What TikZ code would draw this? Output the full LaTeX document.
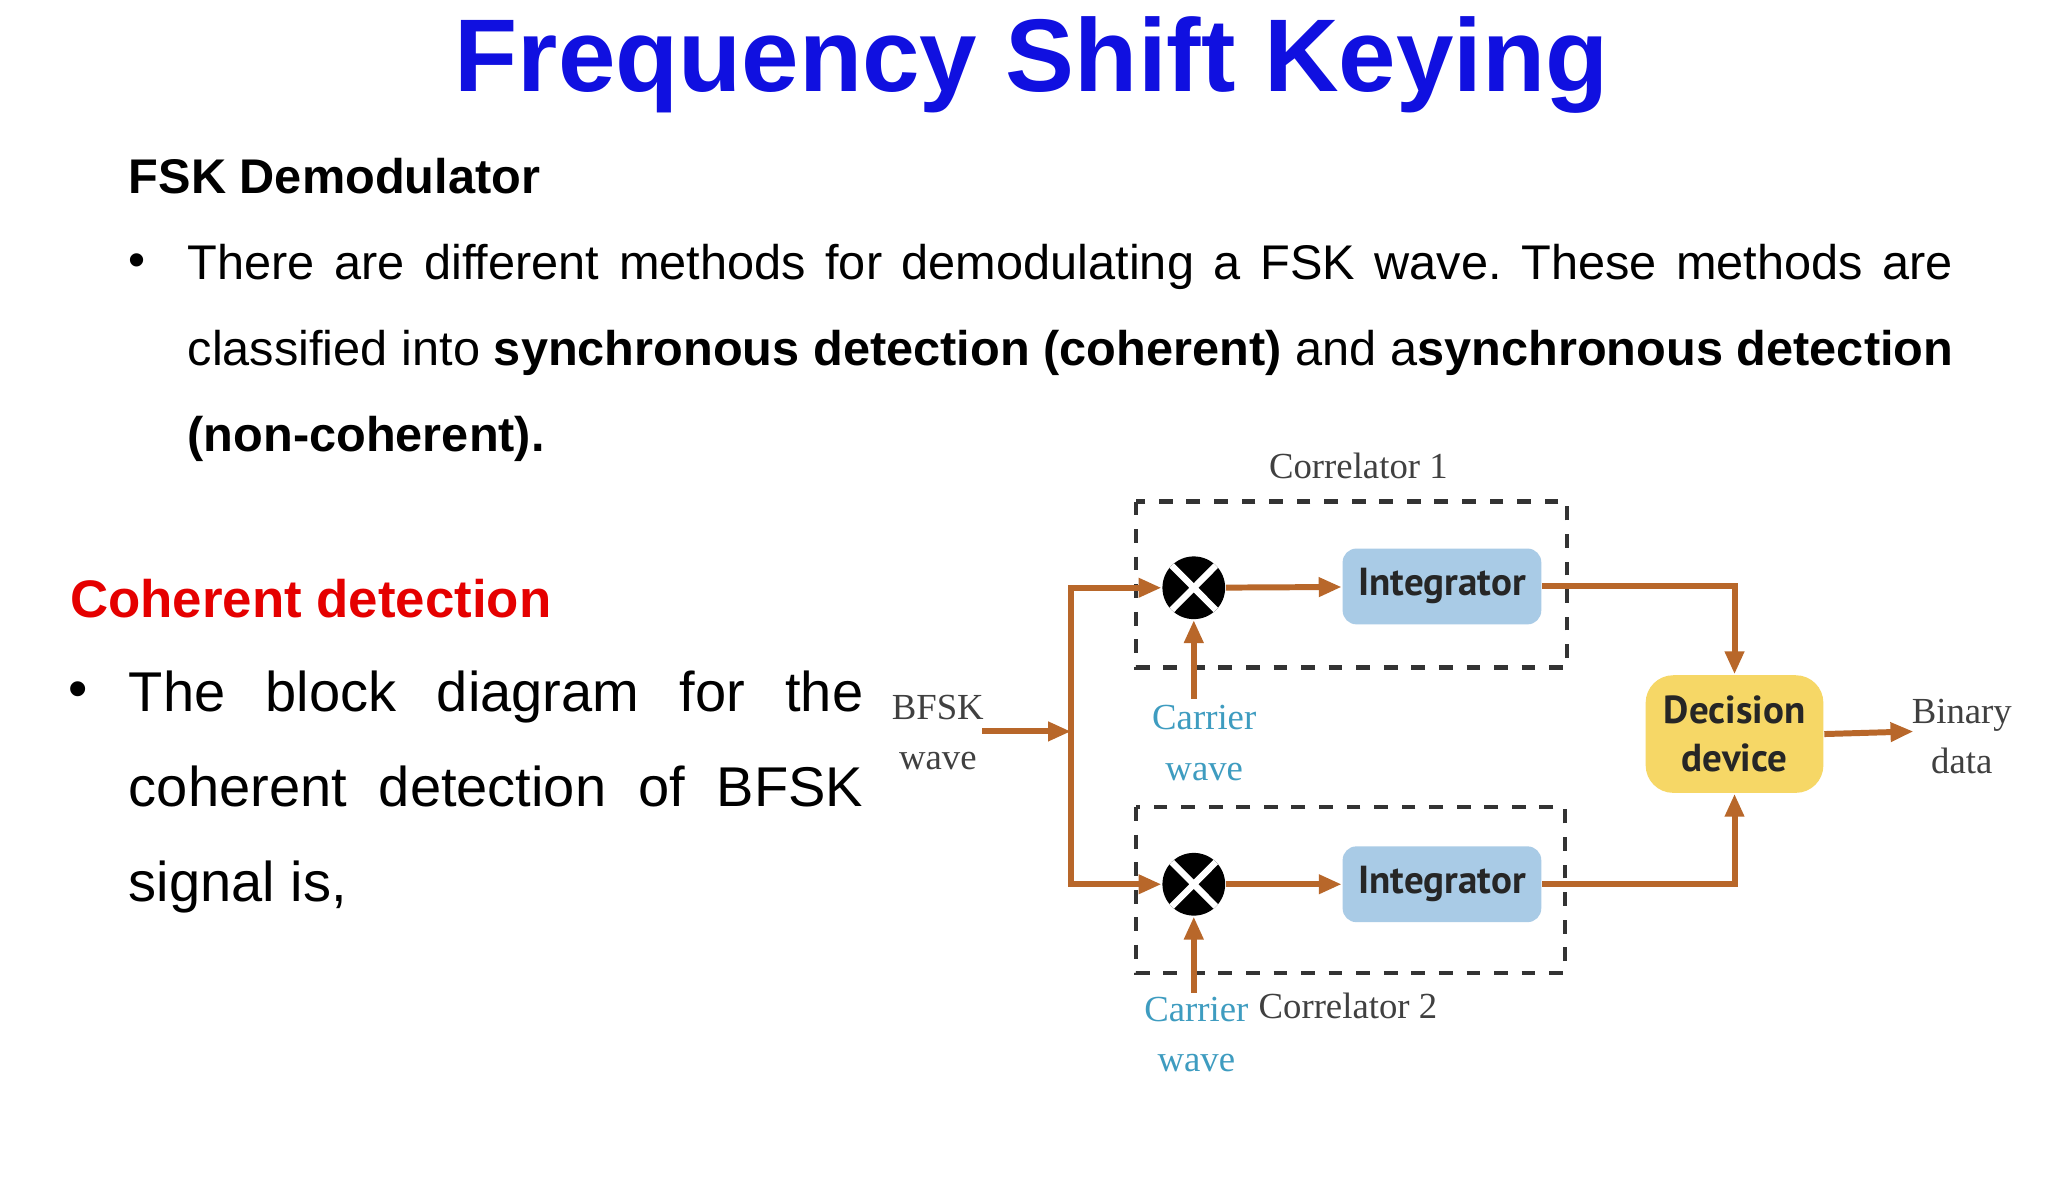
\documentclass[tikz,border=0pt]{standalone}
\usepackage{fontspec}
\setmainfont{Liberation Sans}
\newfontfamily\dia{PT Sans}
\newfontfamily\ser{Liberation Serif}
\usetikzlibrary{arrows.meta}
\definecolor{ln}{HTML}{B8672A}
\definecolor{cw}{HTML}{3E9CC0}
\definecolor{ib}{HTML}{A9CBE6}
\definecolor{dy}{HTML}{F6D766}
\definecolor{tb}{HTML}{1010E0}
\frenchspacing
\begin{document}
\begin{tikzpicture}[x=0.01cm,y=-0.01cm,
  wire/.style={ln,line width=1.3pt},
  arr/.style={wire,-{Triangle[length=5pt,width=4pt]}},
  dbox/.style={draw=black!80,dashed,line width=0.9pt},
  integ/.style={rounded corners=3pt,fill=ib,minimum width=1.52cm,minimum height=0.58cm,font=\dia\bfseries\fontsize{8.5}{10}\selectfont\color{black!85}},
  mult/.style={circle,fill=black,minimum size=0.48cm,inner sep=0pt,path picture={\draw[white,line width=1.4pt] (path picture bounding box.north west)++(0.08,-0.08) -- ([shift={(-0.08,0.08)}]path picture bounding box.south east) (path picture bounding box.north east)++(-0.08,-0.08) -- ([shift={(0.08,0.08)}]path picture bounding box.south west);}},
  lab/.style={font=\ser\fontsize{8}{11}\selectfont,text=black!75,align=center},
  clab/.style={font=\ser\fontsize{8}{11}\selectfont,text=cw,align=center}]
\useasboundingbox (0,0) rectangle (1568,905);
\fill[white] (0,0) rectangle (1568,905);
\node (title) at (790,50) {\bfseries\fontsize{22.5}{24}\selectfont\color{tb}Frequency Shift Keying};
\node[anchor=west,inner sep=0pt] (sub) at (98,135) {\bfseries\fontsize{10.6}{12}\selectfont FSK Demodulator};
\node (b1) at (105,203) {\fontsize{10.6}{12}\selectfont •};
\node[anchor=north west,text width=13.51cm,inner sep=0pt,align=justify] (p1) at (143,186) {\fontsize{10.6}{18.8}\selectfont\hyphenpenalty=10000 There are different methods for demodulating a FSK wave. These methods are classified into \textbf{synchronous detection (coherent)} and a\textbf{synchronous detection (non-coherent).}\par};
\node[anchor=west,inner sep=0pt] (coh) at (53,458) {\bfseries\fontsize{11.5}{13}\selectfont\color{red!90!black}Coherent detection};
\node (b2) at (60,532) {\fontsize{12}{13}\selectfont •};
\node[anchor=north west,text width=5.62cm,inner sep=0pt,align=justify] (p2) at (98,513) {\fontsize{12.2}{20.7}\selectfont\hyphenpenalty=10000 The block diagram for the coherent detection of BFSK signal is,\par};
% diagram
\draw[dbox] (870,384) rectangle (1200,511);
\draw[dbox] (870,618) rectangle (1198,745);
\node[mult] (m1) at (914,450) {};
\node[mult] (m2) at (914,677) {};
\node[integ] (i1) at (1104,449) {Integrator};
\node[integ] (i2) at (1104,677) {Integrator};
\node[rounded corners=6pt,fill=dy,minimum width=1.36cm,minimum height=0.9cm,align=center,font=\dia\bfseries\fontsize{8.5}{10.5}\selectfont\color{black!85}] (dd) at (1328,562) {Decision\\device};
\node[lab] (in) at (718,561) {BFSK\\wave};
\node[lab] (out) at (1502,564) {Binary\\data};
\node[clab] (c1) at (922,569) {Carrier\\wave};
\node[clab] (c2) at (916,792) {Carrier\\wave};
\node[lab] (k1) at (1040,357) {Correlator 1};
\node[lab] (k2) at (1032,770) {Correlator 2};
\coordinate (sp) at (820,560);
\draw[arr] (752,560) -- (sp);
\draw[arr] (sp) |- (m1.west);
\draw[arr] (sp) |- (m2.west);
\draw[arr] (m1) -- (i1);
\draw[arr] (m2) -- (i2);
\draw[arr] (i1.east) -| (dd.north);
\draw[arr] (i2.east) -| (dd.south);
\draw[arr] (dd.east) -- (1465,560);
\draw[arr] (914,535) -- (m1.south);
\draw[arr] (914,760) -- (m2.south);
\end{tikzpicture}
\end{document}
